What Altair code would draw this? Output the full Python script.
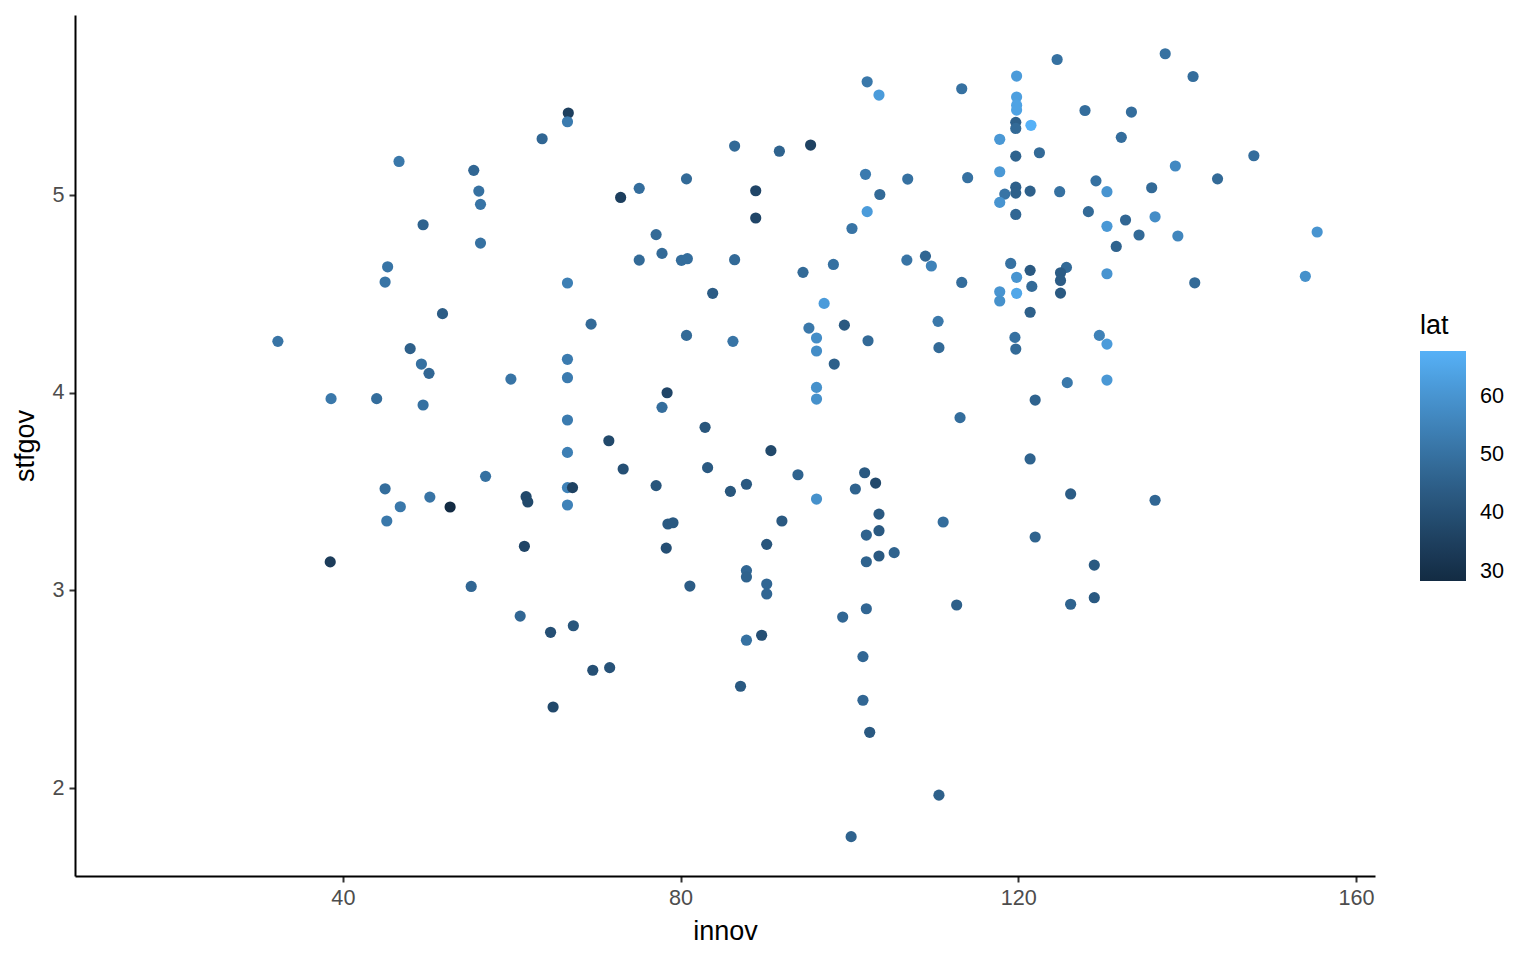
import altair as alt
import pandas as pd

innov = [46.65, 55.5, 56.1, 56.3, 49.5, 56.3, 45.3, 45.0, 51.8, 102.1,
         103.5, 66.7, 66.6, 63.6, 86.4, 91.7, 95.4, 101.9, 106.9, 72.9,
         75.1, 80.7, 88.9, 88.9, 103.6, 102.1, 100.3, 77.1, 77.8, 75.1,
         80.1, 80.8, 86.4, 83.8, 94.5, 98.1, 106.8, 109.0, 109.7, 66.6,
         97.0, 124.6, 137.4, 119.8, 113.3, 140.7, 119.8, 119.8, 119.8, 127.9,
         133.4, 119.7, 119.7, 121.5, 132.2, 117.8, 119.7, 122.5, 147.9, 138.6,
         117.8, 114.0, 143.6, 129.2, 119.7, 119.7, 118.4, 121.4, 124.9, 130.5,
         135.8, 117.8, 119.7, 128.3, 132.7, 130.5, 136.2, 134.3, 138.9, 131.6,
         155.4, 119.1, 121.4, 125.7, 125.0, 125.0, 130.5, 113.3, 119.8, 121.6,
         119.8, 117.8, 117.8, 125.0, 140.9, 154.0, 121.4, 32.3, 47.97, 49.3,
         50.2, 59.9, 38.6, 44.0, 49.5, 56.9, 45.0, 50.3, 46.8, 52.7,
         45.2, 38.5, 55.2, 69.4, 80.7, 86.2, 95.2, 96.1, 96.1, 99.4,
         102.2, 110.5, 110.6, 66.6, 66.6, 78.4, 77.8, 98.2, 96.1, 96.1,
         66.6, 82.9, 71.5, 90.7, 66.6, 73.2, 83.2, 93.9, 101.8, 103.1,
         100.7, 77.1, 85.9, 87.8, 66.6, 67.2, 61.7, 61.9, 66.6, 96.1,
         103.5, 103.5, 102.0, 105.3, 103.5, 102.0, 111.1, 78.5, 79.1, 92.0,
         61.5, 78.3, 90.2, 87.8, 87.8, 90.2, 90.2, 81.1, 119.6, 119.7,
         129.6, 130.5, 125.8, 130.5, 122.0, 113.1, 121.4, 126.2, 136.2, 122.0,
         129.0, 129.0, 126.2, 112.7, 110.6, 61.0, 64.6, 67.3, 69.6, 71.6,
         64.9, 87.8, 89.6, 87.1, 99.2, 102.0, 101.6, 101.6, 102.4, 100.2]

stfgov = [5.17, 5.125, 5.02, 4.953, 4.85, 4.757, 4.637, 4.56, 4.40, 5.573,
          5.506, 5.415, 5.371, 5.285, 5.248, 5.222, 5.253, 5.105, 5.081, 4.988,
          5.034, 5.082, 5.022, 4.884, 5.003, 4.916, 4.831, 4.80, 4.705, 4.671,
          4.67, 4.678, 4.673, 4.503, 4.609, 4.649, 4.671, 4.691, 4.641, 4.555,
          4.452, 5.686, 5.715, 5.602, 5.538, 5.60, 5.496, 5.455, 5.43, 5.428,
          5.42, 5.368, 5.337, 5.353, 5.292, 5.282, 5.197, 5.214, 5.199, 5.147,
          5.118, 5.088, 5.082, 5.072, 5.04, 5.01, 5.005, 5.02, 5.017, 5.017,
          5.037, 4.963, 4.902, 4.916, 4.874, 4.842, 4.89, 4.798, 4.793, 4.74,
          4.813, 4.654, 4.619, 4.634, 4.607, 4.568, 4.602, 4.558, 4.584, 4.538,
          4.503, 4.511, 4.464, 4.504, 4.556, 4.589, 4.407, 4.26, 4.223, 4.145,
          4.098, 4.069, 3.97, 3.97, 3.938, 3.577, 3.514, 3.472, 3.423, 3.422,
          3.351, 3.144, 3.02, 4.347, 4.29, 4.26, 4.327, 4.277, 4.211, 4.342,
          4.263, 4.361, 4.228, 4.169, 4.076, 4.0, 3.926, 4.145, 4.027, 3.968,
          3.862, 3.825, 3.757, 3.707, 3.698, 3.614, 3.621, 3.585, 3.595, 3.543,
          3.513, 3.53, 3.501, 3.537, 3.52, 3.52, 3.474, 3.447, 3.432, 3.462,
          3.386, 3.302, 3.28, 3.191, 3.174, 3.145, 3.346, 3.336, 3.342, 3.351,
          3.223, 3.214, 3.233, 3.10, 3.068, 3.032, 2.982, 3.022, 4.28, 4.221,
          4.29, 4.246, 4.051, 4.064, 3.963, 3.874, 3.665, 3.488, 3.456, 3.27,
          3.128, 2.963, 2.93, 2.926, 1.964, 2.87, 2.788, 2.821, 2.596, 2.609,
          2.41, 2.748, 2.773, 2.515, 2.865, 2.907, 2.665, 2.444, 2.282, 1.754]

lat = [52, 47, 50, 51, 46, 50, 51, 51, 44, 52,
       62, 35, 53, 47, 48, 46, 36, 53, 50, 35,
       49, 48, 37, 37, 48, 62, 51, 48, 48, 48,
       49, 49, 48, 44, 48, 50, 51, 47, 55, 54,
       62, 50, 50, 62, 50, 49, 63, 64, 64, 49,
       49, 45, 48, 67.8, 49, 61, 46, 48, 49, 57,
       61, 50, 48, 50, 45, 45, 51, 45, 50, 60,
       48, 60, 47, 48, 47, 61, 58, 48, 56, 46,
       60, 50, 43, 48, 44, 44, 60, 49, 60, 48,
       65, 60, 59, 43, 48, 59, 45, 51, 45, 50,
       47, 51, 52, 49, 50, 50, 49, 51, 52, 28.4,
       52, 34, 47, 48, 48, 51, 52, 58, 58, 43,
       48, 52, 48, 53, 53, 37, 49, 45, 59, 59,
       53, 42, 38, 38, 54, 40, 43, 46, 43, 38,
       46, 42, 42, 43, 55, 36, 38, 38, 55, 59,
       43, 43, 46, 46, 43, 46, 49, 43, 43, 43,
       37, 40, 42, 47, 46, 47, 47, 44, 50, 48,
       55, 62, 52, 61, 46, 49, 46, 44, 47, 46,
       43, 43, 46, 45, 45, 47, 40, 42, 40, 41,
       38, 50, 40, 43, 47, 47, 47, 47, 43, 46]

x_ticks = [40, 80, 120, 160]
y_ticks = [2, 3, 4, 5]
lat_ticks = [30, 40, 50, 60]

df = pd.DataFrame({"innov": innov, "stfgov": stfgov, "lat": lat})

FONT = "Liberation Sans"

chart = alt.Chart(df).mark_circle(size=125, opacity=1).encode(
    x=alt.X("innov:Q",
            scale=alt.Scale(domain=[8.27, 162.25], nice=False, zero=False),
            axis=alt.Axis(values=x_ticks, title="innov", grid=False,
                          labelFontSize=21.6, labelColor="#4D4D4D", labelFont=FONT,
                          titleFontSize=27, titleFont=FONT, titleColor="black",
                          titleFontWeight="normal", titlePadding=10,
                          tickColor="#333333", tickWidth=2, tickSize=6,
                          domainColor="black", domainWidth=2, labelPadding=5)),
    y=alt.Y("stfgov:Q",
            scale=alt.Scale(domain=[1.555, 5.911], nice=False, zero=False),
            axis=alt.Axis(values=y_ticks, title="stfgov", grid=False,
                          labelFontSize=21.6, labelColor="#4D4D4D", labelFont=FONT,
                          titleFontSize=27, titleFont=FONT, titleColor="black",
                          titleFontWeight="normal", titlePadding=12,
                          tickColor="#333333", tickWidth=2, tickSize=6,
                          domainColor="black", domainWidth=2, labelPadding=5)),
    color=alt.Color("lat:Q",
                    scale=alt.Scale(range=["#132B43", "#56B1F7"], interpolate="lab",
                                    zero=False, nice=False),
                    legend=alt.Legend(title="lat", orient="none", legendX=1345, legendY=298,
                                      direction="vertical", gradientLength=230,
                                      gradientThickness=46, values=lat_ticks,
                                      titleFontSize=27, titleFont=FONT, titleColor="black",
                                      titleFontWeight="normal", titlePadding=11,
                                      labelFontSize=21.6, labelFont=FONT, labelColor="black",
                                      labelOffset=14, gradientStrokeWidth=0)),
).properties(
    width=1300, height=861,
    autosize=alt.AutoSizeParams(type="none"),
    padding={"left": 67, "top": 7, "right": 153, "bottom": 72},
).configure_view(stroke=None)

chart.save("out.html", embed_options={"renderer": "svg", "actions": False})
